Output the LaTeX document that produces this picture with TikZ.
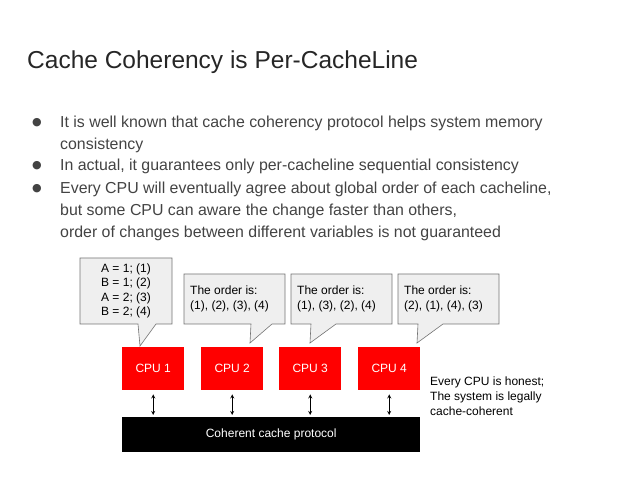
\documentclass[tikz,border=0pt]{standalone}
\usepackage{fontspec}
\setmainfont{Liberation Sans}
\newfontfamily\symf{DejaVu Sans}
\definecolor{cpured}{HTML}{FF0000}
\definecolor{callfill}{HTML}{EFEFEF}
\definecolor{txt}{HTML}{434343}
\begin{document}
\begin{tikzpicture}[x=1pt,y=-1pt,
  call/.style={draw=black!55,fill=callfill,line width=0.6pt},
  cpu/.style={fill=cpured,text=white,minimum width=62pt,minimum height=43pt,anchor=north west,inner sep=0pt,font=\fontsize{12}{14}\selectfont},
  txt/.style={anchor=west,inner sep=0pt,font=\fontsize{12}{15}\selectfont},
  bul/.style={anchor=west,inner sep=0pt,text=txt,font=\fontsize{15.9}{18}\selectfont},
  link/.style={<->,>=stealth,line width=0.8pt}]
\useasboundingbox (0,0) rectangle (638,478);
\node[anchor=west,inner sep=0pt,font=\fontsize{24.5}{28}\selectfont,text=black!85] (title) at (27,62) {Cache Coherency is Per-CacheLine};
\foreach \y in {123,166,189} \node[inner sep=0pt,text=txt,font=\symf\fontsize{11}{12}\selectfont] at (37,\y) {●};
\node[bul] (l1) at (60,123) {It is well known that cache coherency protocol helps system memory};
\node[bul] (l2) at (60,145) {consistency};
\node[bul] (l3) at (60,166) {In actual, it guarantees only per-cacheline sequential consistency};
\node[bul] (l4) at (60,189) {Every CPU will eventually agree about global order of each cacheline,};
\node[bul] (l5) at (60,211) {but some CPU can aware the change faster than others,};
\node[bul] (l6) at (60,233) {order of changes between different variables is not guaranteed};
% callouts
\draw[call] (80,258) -- (172,258) -- (172,324) -- (156,324) -- (140,346) -- (138,324) -- (80,324) -- cycle;
\node[align=center,inner sep=0pt,font=\fontsize{12}{14.5}\selectfont] (c1) at (126,291) {A = 1; (1)\\B = 1; (2)\\A = 2; (3)\\B = 2; (4)};
\foreach \x/\tx/\t in {184/250/{(1), (2), (3), (4)},291/310/{(1), (3), (2), (4)},398/417/{(2), (1), (4), (3)}}{
  \draw[call] (\x,274) -- (\x+101,274) -- (\x+101,324) -- ({max(\tx+22,\x+45)},324) -- (\tx,343) -- (\tx+1,324) -- (\x,324) -- cycle;
  \node[txt,align=left] at (\x+6,299) {The order is:\\\t};
}
% cpus
\node[cpu] (cpu1) at (122,347) {CPU 1};
\node[cpu] (cpu2) at (201,347) {CPU 2};
\node[cpu] (cpu3) at (279,347) {CPU 3};
\node[cpu] (cpu4) at (358,347) {CPU 4};
\node[fill=black,text=white,minimum width=298pt,minimum height=35pt,anchor=north west,inner sep=0pt,font=\fontsize{12}{14}\selectfont] (bus) at (122,417) {Coherent cache protocol};
\foreach \c in {cpu1,cpu2,cpu3,cpu4}
  \draw[link] ([yshift=-4pt]\c.south) -- ([yshift=2pt]\c.south |- bus.north);
\node[txt,align=left] (note) at (430,396) {Every CPU is honest;\\The system is legally\\cache-coherent};
\end{tikzpicture}
\end{document}
